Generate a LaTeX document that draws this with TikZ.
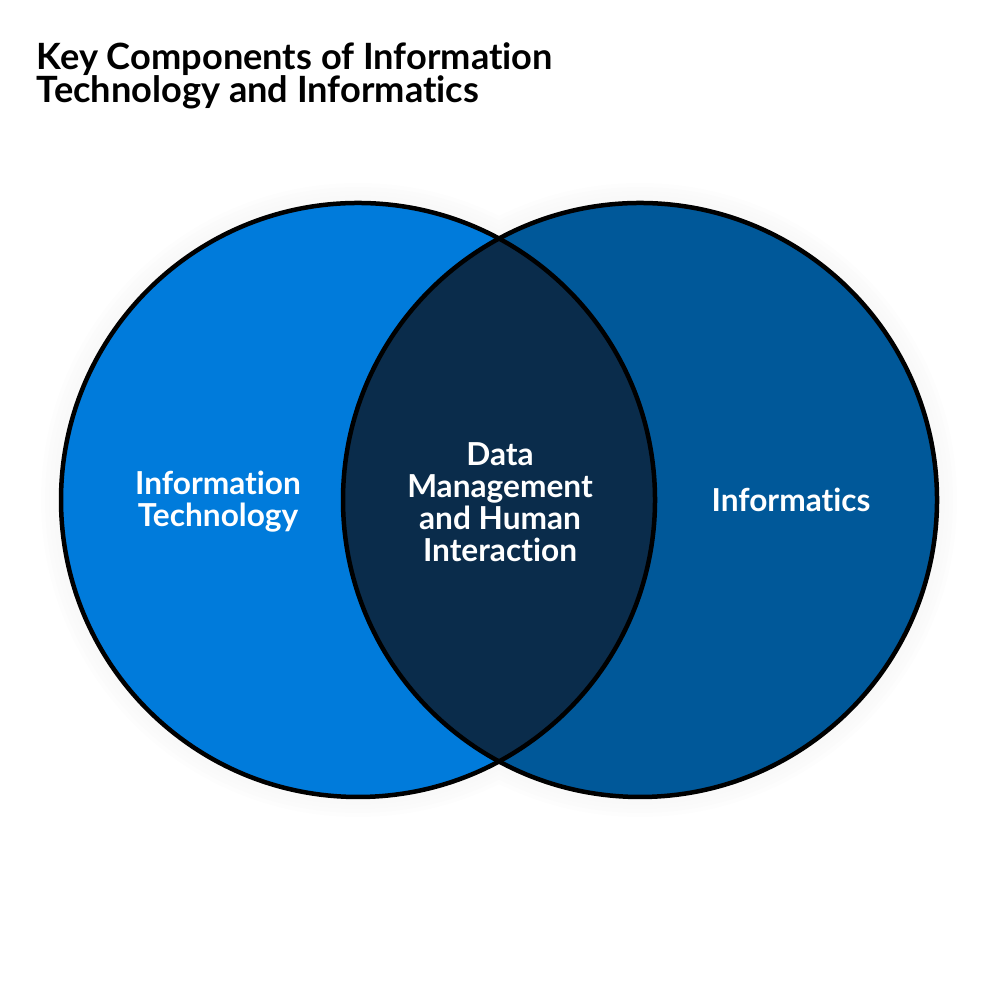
\documentclass[tikz,border=0pt]{standalone}
\usepackage{fontspec}
\setmainfont{Lato}[Ligatures=NoCommon]
\usetikzlibrary{positioning}
\definecolor{techblue}{HTML}{007BDB}
\definecolor{infoblue}{HTML}{005899}
\definecolor{overlapblue}{HTML}{0A2C4B}

\begin{document}
\begin{tikzpicture}[
    label text/.style={text=white, font=\fontsize{9.0pt}{9.1pt}\selectfont\bfseries,
      align=center},
  ]
        \useasboundingbox (0,0) rectangle (10,10);
        \coordinate (L) at (3.58,5.0);
        \coordinate (R) at (6.40,5.0);
        % radius in cm
        \def\rad{2.97}

        % soft shadow
        \begin{scope}[transparency group, opacity=0.5]
          \foreach \d in {0.20,0.16,0.12,0.08,0.05,0.03}
            \fill[black!6, opacity=0.3] (L) circle (\rad+\d) (R) circle (\rad+\d);
        \end{scope}

        \fill[techblue] (L) circle (\rad);
        \fill[infoblue] (R) circle (\rad);
        \begin{scope}
          \clip (L) circle (\rad);
          \fill[overlapblue] (R) circle (\rad);
        \end{scope}
        \draw[line width=0.45mm] (L) circle (\rad);
        \draw[line width=0.45mm] (R) circle (\rad);

        \node[label text] (it) at (2.18,4.98) {Information\\Technology};
        \node[label text] (inf) at (7.91,5.0) {Informatics};
        \node[label text] (mid) at (5.0,4.98)
          {Data\\Management\\and Human\\Interaction};

        \node[anchor=north west, align=left, inner sep=0pt,
          font=\fontsize{10.3pt}{9.5pt}\selectfont\bfseries] (title)
          at (0.36,9.585) {Key Components of Information\\Technology and Informatics};
      \end{tikzpicture}
\end{document}
